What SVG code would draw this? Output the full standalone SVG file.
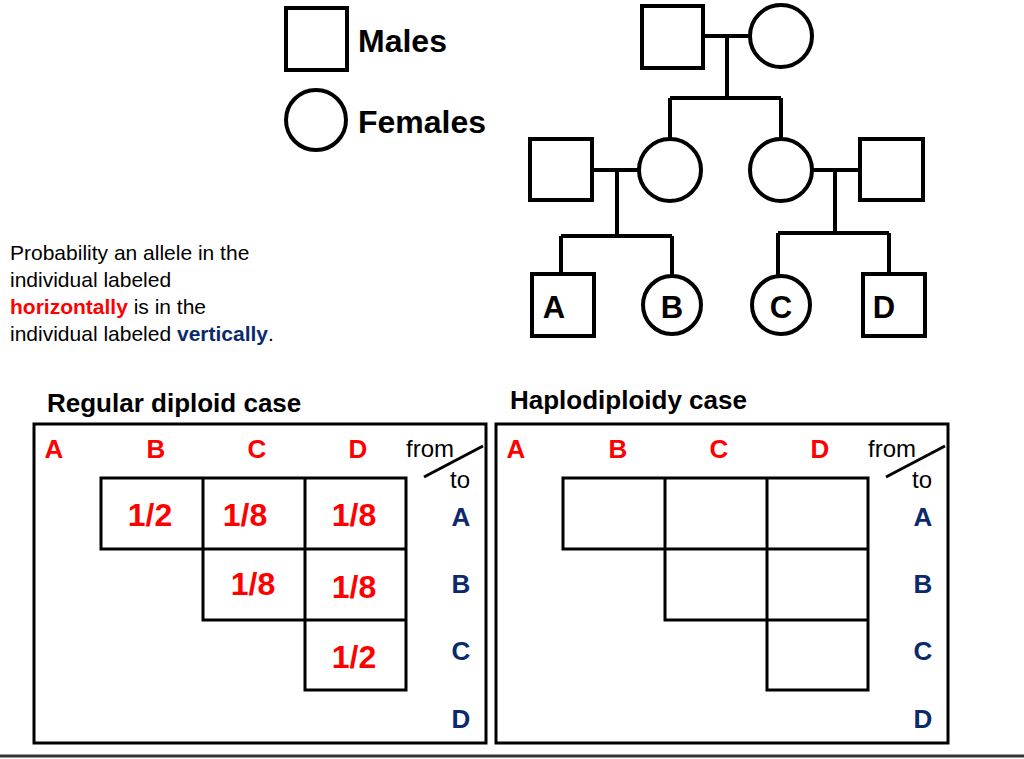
<svg xmlns="http://www.w3.org/2000/svg" width="1024" height="759" viewBox="0 0 1024 759">
<style>
.s{fill:#fff;stroke:#000;stroke-width:4}
.l{fill:none;stroke:#000;stroke-width:4}
.g{fill:none;stroke:#000;stroke-width:3}
text{font-family:"Liberation Sans",Arial,sans-serif}
.h{font-weight:bold;fill:#000}
.r{fill:#f00;font-weight:bold;font-size:26px;text-anchor:middle}
.b{fill:#0b2a6b;font-weight:bold;font-size:26px;text-anchor:middle}
.f{font-size:24px;fill:#000}
.p{font-size:32px;font-weight:bold;fill:#f00;text-anchor:middle}
.t{font-size:21px;fill:#000}
</style>
<rect width="1024" height="759" fill="#fff"/>
<g id="legend">
<rect class="s" x="286" y="8" width="61" height="62"/>
<circle class="s" cx="316" cy="120" r="30"/>
<text class="h" x="358" y="52" font-size="32">Males</text>
<text class="h" x="358" y="133" font-size="32">Females</text>
</g>
<g id="connectors">
<path class="l" d="M703 36H750M727 36V98M670 98H781M670 98V139M781 98V139"/>
<path class="l" d="M592 170H639M617 170V236M561 236H672M561 236V274M672 236V276"/>
<path class="l" d="M812 170H860M835 170V233M778 233H889M778 233V276M889 233V274"/>
</g>
<g id="gp-m"><rect class="s" x="642" y="6" width="61" height="62"/></g>
<g id="gp-f"><circle class="s" cx="781" cy="36" r="31"/></g>
<g id="p1-m"><rect class="s" x="530" y="139" width="62" height="61"/></g>
<g id="p1-f"><circle class="s" cx="670" cy="170" r="31"/></g>
<g id="p2-f"><circle class="s" cx="781" cy="170" r="31"/></g>
<g id="p2-m"><rect class="s" x="860" y="139" width="63" height="61"/></g>
<g id="A"><rect class="s" x="532" y="274" width="62" height="62"/><text class="h" x="554" y="318" font-size="31" text-anchor="middle">A</text></g>
<g id="B"><circle class="s" cx="672" cy="305" r="29"/><text class="h" x="672" y="318" font-size="31" text-anchor="middle">B</text></g>
<g id="C"><circle class="s" cx="781" cy="305" r="29"/><text class="h" x="781" y="318" font-size="31" text-anchor="middle">C</text></g>
<g id="D"><rect class="s" x="863" y="274" width="62" height="62"/><text class="h" x="884" y="318" font-size="31" text-anchor="middle">D</text></g>
<g id="desc">
<text class="t" x="10" y="260">Probability an allele in the</text>
<text class="t" x="10" y="287">individual labeled</text>
<text class="t" x="10" y="314"><tspan fill="#f00" font-weight="bold">horizontally</tspan> is in the</text>
<text class="t" x="10" y="341">individual labeled <tspan fill="#0b2a6b" font-weight="bold">vertically</tspan>.</text>
</g>
<g id="diploid">
<text class="h" x="47" y="412" font-size="26">Regular diploid case</text>
<rect class="g" x="34" y="424" width="452" height="319" fill="none"/>
<text class="r" x="54" y="458">A</text><text class="r" x="156" y="458">B</text><text class="r" x="257" y="458">C</text><text class="r" x="358" y="458">D</text>
<text class="f" x="406" y="457">from</text><text class="f" x="450" y="488">to</text>
<path class="g" d="M424 477L483 446"/>
<path class="g" d="M101 478H406V690H305V620H203V549H101Z M203 478V549H406 M305 478V620H406"/>
<text class="p" x="150" y="526">1/2</text><text class="p" x="245" y="526">1/8</text><text class="p" x="354" y="526">1/8</text>
<text class="p" x="253" y="595">1/8</text><text class="p" x="354" y="598">1/8</text>
<text class="p" x="354" y="668">1/2</text>
<text class="b" x="461" y="526">A</text><text class="b" x="461" y="593">B</text><text class="b" x="461" y="660">C</text><text class="b" x="461" y="728">D</text>
</g>
<g id="haplo">
<text class="h" x="510" y="409" font-size="26">Haplodiploidy case</text>
<rect class="g" x="496" y="424" width="452" height="319" fill="none"/>
<text class="r" x="516" y="458">A</text><text class="r" x="618" y="458">B</text><text class="r" x="719" y="458">C</text><text class="r" x="820" y="458">D</text>
<text class="f" x="868" y="457">from</text><text class="f" x="912" y="488">to</text>
<path class="g" d="M886 477L945 446"/>
<path class="g" d="M563 478H868V690H767V620H665V549H563Z M665 478V549H868 M767 478V620H868"/>
<text class="b" x="923" y="526">A</text><text class="b" x="923" y="593">B</text><text class="b" x="923" y="660">C</text><text class="b" x="923" y="728">D</text>
</g>
<path d="M0 756H1024" stroke="#333" stroke-width="3"/>
</svg>
